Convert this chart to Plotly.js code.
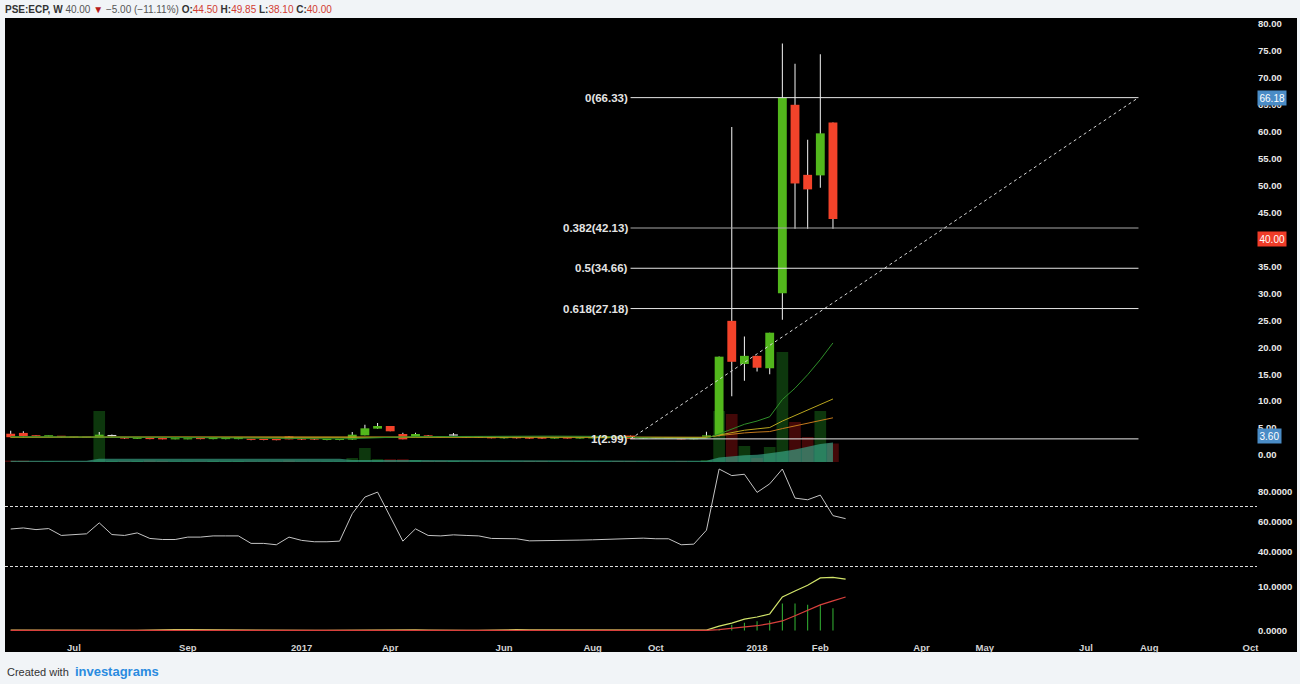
<!DOCTYPE html>
<html><head><meta charset="utf-8">
<script src="https://cdn.plot.ly/plotly-3.0.1.min.js"></script>
<style>html,body{margin:0;padding:0;background:#f1f4f7;}#chart{width:1300px;height:684px;}</style>
</head><body><div id="chart"></div>
<script>
// ---------- DATA ----------
const opens  = [3.95,4.10,3.55,3.45,3.40,3.30,3.25,3.16,3.50,3.15,3.00,3.30,3.15,2.90,2.90,3.00,2.95,2.95,2.95,2.85,2.80,2.80,3.45,3.00,3.00,2.78,2.78,2.85,3.65,4.89,5.38,3.90,3.34,3.65,3.45,3.60,3.30,3.30,3.20,3.10,3.12,3.30,3.30,3.05,3.08,3.05,3.08,3.10,3.20,3.60,3.05,3.12,3.10,3.00,2.92,3.40,3.70,24.90,16.90,18.40,16.10,30.00,65.00,52.00,51.90,61.70];
const highs  = [4.50,4.40,3.60,3.55,3.45,3.35,3.30,4.27,3.80,3.20,3.15,3.30,3.15,3.00,3.00,3.00,3.30,3.30,3.30,2.90,2.85,2.85,3.50,3.03,3.03,2.90,2.90,4.27,5.60,5.94,5.38,4.14,4.14,3.70,3.45,4.10,3.35,3.30,3.25,3.15,3.15,3.30,3.30,3.10,3.10,3.10,3.12,3.15,3.25,3.60,3.15,3.15,3.12,3.05,3.00,4.30,18.30,60.90,22.00,18.40,22.70,76.40,72.60,58.50,74.40,61.70];
const lows   = [3.30,3.30,3.45,3.45,3.30,3.20,3.20,3.16,3.45,3.03,3.00,2.90,2.90,2.90,2.90,2.90,2.90,2.90,2.90,2.75,2.75,2.75,2.90,2.80,2.80,2.75,2.75,2.85,3.65,4.89,4.40,2.90,3.34,3.34,3.30,3.60,3.25,3.20,3.10,3.05,3.05,3.03,3.03,3.00,3.00,3.00,3.05,3.05,3.05,2.99,3.00,3.05,3.05,2.90,2.90,3.40,3.50,10.90,13.80,15.50,15.00,25.10,42.00,42.00,49.60,42.00];
const closes = [3.30,3.50,3.45,3.55,3.35,3.25,3.20,3.77,3.50,3.05,3.15,2.95,2.90,3.00,3.00,2.95,3.30,3.30,3.30,2.80,2.78,2.75,2.90,2.85,2.85,2.90,2.90,3.77,4.95,5.38,4.40,2.90,3.90,3.34,3.30,3.60,3.28,3.25,3.10,3.12,3.10,3.03,3.03,3.08,3.05,3.08,3.10,3.12,3.10,3.00,3.12,3.10,3.08,2.90,2.95,3.65,18.25,17.30,18.40,16.20,22.70,66.30,50.40,49.30,59.70,43.80];
// weekly volume, thousands of shares
const volumes = [30,30,10,10,6,6,6,1020,20,20,20,30,20,10,10,10,20,20,20,10,10,10,30,10,10,10,10,80,280,60,60,60,40,20,20,20,10,10,10,10,10,20,20,10,10,10,10,10,20,20,10,10,10,20,10,40,1020,960,320,80,300,2200,800,500,1020,370];
const volumeAvg = [24,24,24,24,24,24,24,64,64,64,64,64,64,64,64,64,64,64,64,64,64,64,64,64,64,64,64,40,36,36,38,38,38,38,38,38,38,38,38,38,38,38,38,38,38,38,38,36,26,24,24,24,24,24,24,26,90,120,136,144,170,210,250,310,360,390];
// moving averages of price
const maFast = [3.40,3.40,3.40,3.40,3.40,3.40,3.40,3.38,3.37,3.35,3.33,3.30,3.28,3.25,3.22,3.20,3.20,3.18,3.17,3.15,3.12,3.10,3.10,3.08,3.05,3.03,3.00,3.05,3.15,3.28,3.35,3.35,3.40,3.42,3.45,3.48,3.50,3.50,3.50,3.50,3.50,3.50,3.50,3.50,3.50,3.50,3.50,3.45,3.30,3.20,3.15,3.12,3.10,3.08,3.05,3.10,3.90,4.85,5.70,6.30,7.10,10.30,12.40,14.90,17.70,20.80];
const maMid  = [3.30,3.30,3.30,3.30,3.30,3.30,3.30,3.30,3.30,3.30,3.30,3.29,3.28,3.27,3.26,3.25,3.25,3.24,3.23,3.22,3.21,3.20,3.20,3.19,3.18,3.17,3.16,3.17,3.20,3.24,3.27,3.28,3.30,3.31,3.32,3.33,3.34,3.34,3.34,3.34,3.34,3.34,3.34,3.33,3.33,3.32,3.32,3.31,3.30,3.28,3.27,3.26,3.25,3.24,3.23,3.25,3.70,4.20,4.60,4.85,5.10,6.30,7.30,8.30,9.40,10.40];
const maSlow = [3.35,3.35,3.35,3.35,3.35,3.35,3.35,3.35,3.35,3.35,3.34,3.34,3.34,3.33,3.33,3.33,3.33,3.32,3.32,3.32,3.31,3.31,3.31,3.30,3.30,3.30,3.29,3.29,3.30,3.31,3.32,3.32,3.32,3.32,3.32,3.32,3.32,3.32,3.32,3.32,3.31,3.31,3.31,3.31,3.31,3.30,3.30,3.30,3.30,3.29,3.29,3.29,3.28,3.28,3.27,3.30,3.60,3.90,4.10,4.25,4.35,4.90,5.40,5.90,6.40,6.90];
// RSI
const rsi = [55.0,55.7,54.6,55.3,50.7,51.1,51.8,59.1,51.3,50.7,52.4,48.7,48.0,48.0,49.6,49.6,50.4,50.4,50.4,45.4,45.4,44.5,49.6,47.4,46.5,46.5,46.9,65.2,76.3,79.6,63.5,46.9,55.1,50.7,50.4,51.1,50.7,50.4,48.7,48.5,48.5,47.1,47.1,47.6,47.4,47.6,47.8,48.0,48.0,48.5,48.9,48.5,48.5,44.5,44.9,54.2,95.0,90.6,91.5,79.4,85.1,95.0,75.6,74.5,77.6,63.9,61.9];
// lower oscillator
const oscFast = [0.12,0.10,0.02,0.02,0.02,0.02,0.02,0.03,0.03,0.03,0.05,0.15,0.18,0.18,0.18,0.15,0.15,0.12,0.05,0.02,0.02,0.02,0.02,0.02,0.02,0.02,0.05,0.15,0.20,0.22,0.20,0.18,0.15,0.12,0.05,0.02,0.02,0.05,0.15,0.18,0.18,0.16,0.15,0.12,0.05,0.02,0.02,0.02,0.02,0.02,0.02,0.02,0.02,0.02,0.02,0.10,1.00,1.70,2.60,3.10,3.80,7.70,9.10,10.40,12.10,12.20,11.80];
const oscSlow = [0.02,0.02,0.02,0.02,0.02,0.02,0.02,0.02,0.02,0.02,0.02,0.02,0.02,0.02,0.02,0.02,0.02,0.02,0.02,0.02,0.02,0.02,0.02,0.02,0.02,0.02,0.02,0.02,0.02,0.02,0.02,0.02,0.02,0.02,0.02,0.02,0.02,0.02,0.02,0.02,0.02,0.02,0.02,0.02,0.02,0.02,0.02,0.02,0.02,0.02,0.02,0.02,0.02,0.02,0.02,0.02,0.20,0.45,0.80,1.10,1.60,2.20,3.40,4.60,5.90,6.80,7.70];
const oscHist = [0,0,0,0,0,0,0,0,0,0,0,0,0,0,0,0,0,0,0,0,0,0,0,0,0,0,0,0,0,0,0,0,0,0,0,0,0,0,0,0,0,0,0,0,0,0,0,0,0,0,0,0,0,0,0,0,0.40,1.35,1.80,2.10,2.30,6.20,6.20,5.90,5.90,5.10];
// axis ticks
const monthTickBars   = [5,14,23,30,39,46,51,59,64,72,77,85,90,98];
const monthTickLabels = ['Jul','Sep','2017','Apr','Jun','Aug','Oct','2018','Feb','Apr','May','Jul','Aug','Oct'];
const priceTicks = [0,5,10,15,20,25,30,35,45,50,55,60,65,70,75,80];   // 40 is covered by the last-price marker
const rsiTicks = [40,60,80];
const oscTicks = [0,10];
// Fibonacci retracement tool
const fibLevels = ['0','0.382','0.5','0.618','1'];
const fibPrices = [66.33,42.13,34.66,27.18,2.99];
const fibStartBar = 49, fibEndBar = 89.15;
// price markers on the right axis
const markerValues = [66.18, 40.00, 3.60];
const markerColors = ['#4a8cc6','#f03c28','#4a8cc6'];

// ---------- STYLE ----------
const UP='#52b71c', DOWN='#f3432a', DOJI='#dddddd';
const AXFONT = 'Liberation Sans, Arial, sans-serif';

const bars = closes.map((_, i) => i);
const oscBars = oscFast.map((_, i) => i);
const dir = closes.map((c, i) => c > opens[i] ? 1 : (c < opens[i] ? -1 : 0));

const traces = [];
// volume (main axis y, drawn below price subplot)
traces.push({type:'bar', x:bars, y:volumes, yaxis:'y', xaxis:'x', width:0.92,
  marker:{color:dir.map(d => d < 0 ? 'rgba(160,20,20,0.42)' : 'rgba(30,130,30,0.42)'), line:{width:0}},
  hoverinfo:'skip'});
traces.push({type:'scatter', mode:'lines', x:bars, y:volumeAvg, yaxis:'y', xaxis:'x', fill:'tozeroy',
  line:{color:'rgba(60,190,150,0.0)', width:0, shape:'linear'}, fillcolor:'rgba(58,168,138,0.66)', hoverinfo:'skip'});
// wicks
traces.push({type:'bar', x:bars, base:lows, y:highs.map((h,i)=>Math.max(h-lows[i],0.05)), yaxis:'y4', xaxis:'x', width:0.08,
  marker:{color:'#f2f2f2', line:{width:0}}, hoverinfo:'skip'});
// bodies
traces.push({type:'bar', x:bars, base:opens.map((o,i)=>Math.min(o,closes[i])),
  y:opens.map((o,i)=>Math.max(Math.abs(closes[i]-o),0.22)), yaxis:'y4', xaxis:'x', width:0.7,
  marker:{color:dir.map(d => d > 0 ? UP : (d < 0 ? DOWN : DOJI)), line:{width:0}}, hoverinfo:'skip'});
// moving averages
traces.push({type:'scatter', mode:'lines', x:bars, y:maSlow, yaxis:'y4', xaxis:'x', line:{color:'#c47a1c', width:1}, hoverinfo:'skip'});
traces.push({type:'scatter', mode:'lines', x:bars, y:maMid, yaxis:'y4', xaxis:'x', line:{color:'#b9a51e', width:1}, hoverinfo:'skip'});
traces.push({type:'scatter', mode:'lines', x:bars, y:maFast, yaxis:'y4', xaxis:'x', line:{color:'#2f8f2a', width:1}, hoverinfo:'skip'});
// RSI
traces.push({type:'scatter', mode:'lines', x:rsi.map((_,i)=>i), y:rsi, yaxis:'y2', xaxis:'x', line:{color:'#c4c4c4', width:1}, hoverinfo:'skip'});
// oscillator
traces.push({type:'bar', x:oscHist.map((_,i)=>i), y:oscHist, yaxis:'y3', xaxis:'x', width:0.08, marker:{color:'#34b534', line:{width:0}}, hoverinfo:'skip'});
traces.push({type:'scatter', mode:'lines', x:oscBars, y:oscFast, yaxis:'y3', xaxis:'x', line:{color:'#d2e46a', width:1.2}, hoverinfo:'skip'});
traces.push({type:'scatter', mode:'lines', x:oscBars, y:oscSlow, yaxis:'y3', xaxis:'x', line:{color:'#d8403c', width:1.2}, hoverinfo:'skip'});

// ---------- LAYOUT (pixel geometry) ----------
const W=1300, H=684, ML=5, MR=43, MT=18, MB=46;
const PW = W-ML-MR, PH = H-MT-MB;            // plot area
const py = y => (H-MB - y)/PH;               // pixel y -> paper
const px = x => (x - ML)/PW;                 // pixel x -> paper
const priceDom = [py(463), 1], rsiDom = [py(567), py(463)], oscDom = [0, py(567)];

const shapes = [
  {type:'rect', xref:'paper', yref:'paper', x0:0, x1:px(1297), y0:py(652), y1:1, fillcolor:'#000', line:{width:0}, layer:'below'},
  {type:'line', xref:'paper', yref:'y2', x0:0, x1:1, y0:70, y1:70, line:{color:'#dcdcdc', width:1, dash:'3px,2px'}},
  {type:'line', xref:'paper', yref:'y2', x0:0, x1:1, y0:30, y1:30, line:{color:'#dcdcdc', width:1, dash:'3px,2px'}}
];
fibPrices.forEach((p, k) => shapes.push({type:'line', xref:'x', yref:'y4', x0:fibStartBar, x1:fibEndBar, y0:p, y1:p,
  line:{color: k===1 ? '#a8a8a8' : '#e6e6e6', width:1}}));
shapes.push({type:'line', xref:'x', yref:'y4', x0:fibStartBar, y0:fibPrices[4], x1:fibEndBar, y1:fibPrices[0],
  line:{color:'#d8d8d8', width:1, dash:'3px,3px'}});

const annotations = [];
fibLevels.forEach((lv, k) => annotations.push({xref:'x', yref:'y4', x:fibStartBar, y:fibPrices[k], xanchor:'right', yanchor:'middle',
  xshift:-1, showarrow:false, text:'<b>'+lv+'('+fibPrices[k].toFixed(2)+')</b>',
  font:{family:'Liberation Sans, Arial, sans-serif', size:11.5, color:'#e4e4e4'}}));
markerValues.forEach((v, k) => annotations.push({xref:'paper', yref:'y4', x:1, y:v, xanchor:'left', yanchor:'middle', xshift:0,
  showarrow:false, text:v.toFixed(2), bgcolor:markerColors[k], borderpad:1.5,
  font:{family:AXFONT, size:10, color:'#ffffff'}}));
// header
annotations.push({xref:'paper', yref:'paper', x:px(3), y:py(9), xanchor:'left', yanchor:'middle', showarrow:false,
  font:{family:'Liberation Sans, Arial, sans-serif', size:10, color:'#555'},
  text:'<b><span style="color:#333">PSE:ECP, W</span></b> 40.00 <span style="color:#b71c1c">▼</span> −5.00 (−11.11%) '+
       '<b><span style="color:#333">O:</span></b><span style="color:#d23c32">44.50</span> '+
       '<b><span style="color:#333">H:</span></b><span style="color:#d23c32">49.85</span> '+
       '<b><span style="color:#333">L:</span></b><span style="color:#d23c32">38.10</span> '+
       '<b><span style="color:#333">C:</span></b><span style="color:#d23c32">40.00</span>'});
// footer
annotations.push({xref:'paper', yref:'paper', x:px(5), y:py(671), xanchor:'left', yanchor:'middle', showarrow:false,
  font:{family:'Liberation Sans, Arial, sans-serif', size:11, color:'#333'},
  text:'Created with  <b><span style="color:#2a8be0;font-size:13px">investagrams</span></b>'});

const yTick = {family:AXFONT, size:9.5, color:'#e8e8e8', weight:'bold'};
const layout = {
  width:W, height:H, margin:{l:ML, r:MR, t:MT, b:MB, pad:0},
  paper_bgcolor:'#f1f4f7', plot_bgcolor:'#000000',
  showlegend:false, barmode:'overlay', hovermode:false, dragmode:false,
  xaxis:{domain:[0,1], anchor:'y3', range:[-0.45, 98.52], tickmode:'array', tickvals:monthTickBars, ticktext:monthTickLabels,
    tickfont:{family:AXFONT, size:9.5, color:'#d4d4d4', weight:'bold'}, showgrid:false, zeroline:false, showline:false, ticks:'', ticklabelstandoff:2},
  yaxis:{domain:priceDom, range:[-20, 8880], visible:false, fixedrange:true},
  yaxis4:{overlaying:'y', anchor:'x', side:'right', range:[-1.485, 81.11], tickmode:'array', tickvals:priceTicks, tickformat:'.2f',
    tickfont:yTick, showgrid:false, zeroline:false, showline:false, ticks:''},
  yaxis2:{domain:rsiDom, anchor:'x', side:'right', range:[29.67, 99], tickmode:'array', tickvals:rsiTicks, tickformat:'.4f',
    tickfont:yTick, showgrid:false, zeroline:false, showline:false, ticks:''},
  yaxis3:{domain:oscDom, anchor:'x', side:'right', range:[-1.724, 14.6], tickmode:'array', tickvals:oscTicks, tickformat:'.4f',
    tickfont:yTick, showgrid:false, zeroline:false, showline:false, ticks:''},
  shapes:shapes, annotations:annotations
};
Plotly.newPlot('chart', traces, layout, {displayModeBar:false, staticPlot:true});
</script></body></html>
